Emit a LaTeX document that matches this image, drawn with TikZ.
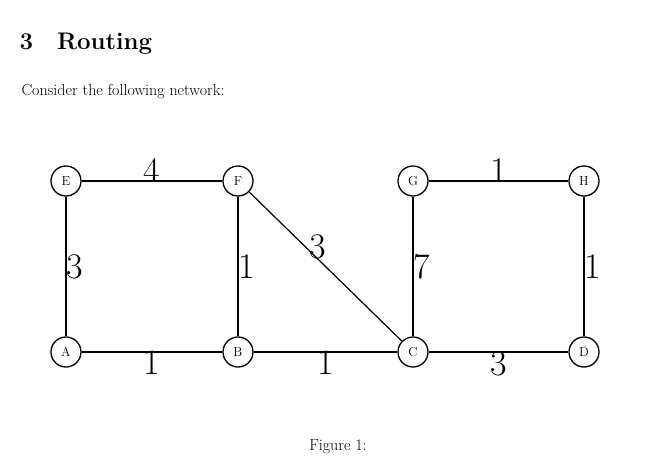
\documentclass[tikz,border=0pt]{standalone}
\usepackage{fontspec}
\begin{document}
\begin{tikzpicture}[x=1pt,y=-1pt,
 vtx/.style={circle,draw,line width=1.3pt,minimum size=30pt,inner sep=0pt,font=\fontsize{13}{14}\selectfont},
 wt/.style={font=\fontsize{36}{38}\selectfont},
 edge/.style={line width=1.2pt}]
\useasboundingbox (0,0) rectangle (669,473);
\node[anchor=base west,font=\fontsize{24}{26}\selectfont\bfseries] (title) at (16,50) {3\quad Routing};
\node[anchor=base west,font=\fontsize{16}{18}\selectfont] (intro) at (18,96) {Consider the following network:};
\node[vtx] (E) at (66,181) {E};
\node[vtx] (F) at (238,181) {F};
\node[vtx] (G) at (413,181) {G};
\node[vtx] (H) at (584,181) {H};
\node[vtx] (A) at (66,352) {A};
\node[vtx] (B) at (238,352) {B};
\node[vtx] (C) at (413,352) {C};
\node[vtx] (D) at (584,352) {D};
\draw[edge] (E) -- node[wt,above=-5pt]{4} (F);
\draw[edge] (E) -- node[wt,right=-3pt]{3} (A);
\draw[edge] (F) -- node[wt,right=-3pt]{1} (B);
\draw[edge] (F) -- node[wt,pos=0.42,above right=-8pt]{3} (C);
\draw[edge] (G) -- node[wt,right=-3pt]{7} (C);
\draw[edge] (G) -- node[wt,above=-5pt]{1} (H);
\draw[edge] (H) -- node[wt,right=-3pt]{1} (D);
\draw[edge] (A) -- node[wt,below=-5pt]{1} (B);
\draw[edge] (B) -- node[wt,below=-5pt]{1} (C);
\draw[edge] (C) -- node[wt,below=-4pt]{3} (D);
\node[font=\fontsize{16}{18}\selectfont] (cap) at (338,447) {Figure 1:};
\end{tikzpicture}
\end{document}
